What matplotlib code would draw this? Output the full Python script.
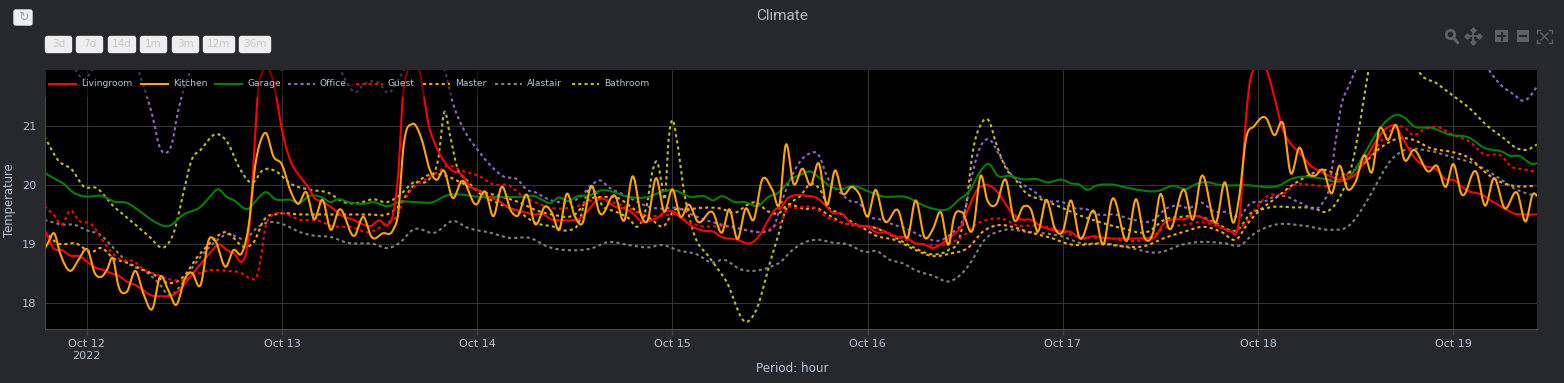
import numpy as np
import matplotlib
matplotlib.use('Agg')
import matplotlib.pyplot as plt
from matplotlib.patches import Circle, FancyBboxPatch, Rectangle

# hours counted from Oct 12 00:00
living_h = [-5.2, -4.1, -3, -2, -0.9, 0, 1, 2, 3, 4, 5, 6, 7, 8, 9.2, 10.2, 11.3, 12.3, 13.3, 14.3, 15.2, 16.2, 17.2, 18.2, 19.1, 19.7, 20.1, 20.6, 21, 21.5, 22.1, 22.7, 23.3, 24, 25, 26.2, 27.3, 28, 29, 30.3, 31.5, 32.8, 33.8, 34.8, 36, 37, 37.7, 38.3, 38.9, 39.5, 40.1, 40.8, 41.4, 42, 42.8, 43.8, 44.9, 46.1, 47.1, 48, 49.2, 50.4, 52, 53.6, 55.1, 56, 57.2, 58.4, 59.7, 60.7, 61.7, 62.7, 63.5, 64.3, 65.2, 66.2, 67.2, 68.2, 69.3, 70.1, 71.1, 72.1, 73.1, 74.4, 76, 77, 78, 79.7, 81.9, 82.8, 83.8, 84.8, 85.2, 86.2, 87.2, 88.4, 89.9, 90.7, 91.7, 93, 93.7, 95, 96, 97, 98.3, 99.5, 100.9, 101.7, 103, 104, 105, 106, 107.5, 108.5, 109.5, 110.5, 111.5, 112.5, 113.6, 114.8, 116.1, 117.3, 118.6, 119.8, 121, 122, 123.9, 125.1, 127.6, 130, 131.5, 132.3, 133.3, 134.9, 136.2, 137.8, 139.4, 140.7, 141.4, 141.8, 142.3, 142.9, 143.5, 144.2, 145, 145.9, 146.9, 148, 149.2, 150.4, 151.7, 152.9, 154.1, 155.3, 156.1, 157.4, 158.6, 159.8, 160.9, 161.9, 163.1, 164.3, 166, 167, 168, 169, 170, 171.3, 172.5, 174.2, 175.4, 176.6, 178.4]
living_t = [19.25, 18.93, 18.89, 18.8, 18.79, 18.7, 18.6, 18.56, 18.5, 18.45, 18.35, 18.3, 18.2, 18.12, 18.11, 18.11, 18.2, 18.37, 18.54, 18.71, 18.85, 18.99, 18.9, 18.82, 18.7, 18.93, 19.47, 20.6, 21.5, 21.9, 22.0, 21.88, 21.5, 20.94, 20.43, 20.15, 19.95, 19.78, 19.72, 19.6, 19.47, 19.41, 19.34, 19.3, 19.4, 19.32, 19.53, 20.2, 21.56, 21.96, 22.15, 22.0, 21.56, 21.05, 20.71, 20.43, 20.25, 20.18, 19.98, 19.92, 19.81, 19.75, 19.61, 19.55, 19.5, 19.51, 19.41, 19.4, 19.4, 19.44, 19.58, 19.74, 19.77, 19.69, 19.62, 19.6, 19.51, 19.38, 19.4, 19.44, 19.55, 19.55, 19.44, 19.3, 19.22, 19.21, 19.12, 19.08, 19.03, 19.16, 19.41, 19.6, 19.6, 19.78, 19.83, 19.82, 19.77, 19.67, 19.53, 19.5, 19.38, 19.31, 19.29, 19.2, 19.19, 19.12, 19.1, 19.02, 18.99, 18.93, 18.99, 19.1, 19.3, 19.64, 19.93, 20.0, 19.95, 19.78, 19.55, 19.42, 19.41, 19.3, 19.24, 19.21, 19.2, 19.1, 19.13, 19.1, 19.09, 19.1, 19.14, 19.33, 19.41, 19.42, 19.48, 19.4, 19.29, 19.21, 19.21, 19.53, 20.71, 21.67, 21.98, 22.1, 21.98, 21.56, 21.0, 20.71, 20.54, 20.34, 20.23, 20.15, 20.09, 20.12, 20.2, 20.49, 20.77, 20.97, 21.0, 20.77, 20.49, 20.34, 20.26, 20.1, 20.09, 19.98, 19.89, 19.85, 19.75, 19.61, 19.52, 19.5, 19.5]

kitchen_h = [-5.2, -4.7, -4, -3.3, -2, -1, 0.1, 1, 1.8, 2.5, 3.2, 3.9, 4.9, 6, 7, 8.1, 9, 10, 11, 12.1, 12.9, 14, 15, 15.8, 17.1, 18, 19.1, 19.9, 20.7, 21.5, 22, 22.95, 24, 25, 26, 27, 27.95, 29, 30, 31, 32.95, 34, 35, 36.4, 37.7, 38.3, 38.9, 40, 41.2, 42.1, 43, 43.9, 45, 46.1, 47.9, 49, 50, 51, 52.2, 53, 54.1, 55.1, 56.4, 57.2, 58.1, 59, 60, 60.9, 62.1, 63, 65, 66.1, 67.1, 68.2, 68.9, 70, 71, 72, 73, 74, 75.1, 77, 78.1, 79, 80, 81, 82, 83, 84.3, 85.2, 85.9, 86.9, 88, 89, 90, 91, 92, 92.9, 94.1, 95, 96, 97, 98, 99.8, 100.9, 101.9, 103, 104, 105, 106, 106.6, 107.6, 109, 109.9, 110.7, 111.8, 113, 114, 115.2, 116.1, 116.9, 118, 119, 120, 121, 122, 123.9, 125, 126, 128, 129, 130, 131.1, 132, 133, 135, 136, 137, 138.9, 139.9, 141, 141.7, 142.5, 143.5, 145, 146, 147.1, 148, 149.1, 150.2, 151, 152, 153.1, 154, 155, 156, 157.1, 158, 158.9, 160, 161, 162, 163.1, 165, 166, 167.1, 168, 169, 170.9, 171.9, 173, 174.3, 175.9, 176.9, 177.8, 178.4]
kitchen_t = [18.9, 19.03, 19.18, 18.85, 18.54, 18.73, 18.9, 18.5, 18.44, 18.56, 18.76, 18.28, 18.18, 18.54, 18.14, 17.9, 18.44, 18.22, 17.96, 18.42, 18.51, 18.3, 19.07, 19.05, 18.61, 18.89, 18.85, 19.3, 20.32, 20.8, 20.89, 20.49, 20.35, 19.92, 19.68, 19.88, 19.42, 19.75, 19.24, 19.58, 19.14, 19.46, 19.12, 19.18, 19.25, 19.53, 20.6, 21.04, 20.77, 20.29, 20.09, 20.25, 19.78, 20.07, 19.67, 19.89, 19.47, 19.97, 19.55, 19.48, 19.84, 19.34, 19.64, 19.53, 19.24, 19.85, 19.47, 19.34, 19.99, 19.54, 19.81, 19.4, 20.15, 19.47, 19.38, 20.12, 19.55, 19.93, 19.46, 19.67, 19.38, 19.53, 19.19, 19.59, 19.08, 19.6, 19.41, 20.08, 19.92, 19.7, 20.67, 20.02, 20.28, 20.0, 20.37, 19.66, 20.25, 19.86, 19.97, 19.84, 19.46, 19.92, 19.41, 19.56, 19.1, 19.74, 19.11, 19.24, 19.54, 18.99, 19.44, 19.54, 19.27, 20.16, 19.75, 19.67, 20.09, 19.41, 19.64, 19.58, 19.21, 19.75, 19.27, 19.21, 19.74, 19.12, 19.55, 18.99, 19.74, 19.08, 19.76, 19.12, 19.19, 19.85, 19.27, 19.91, 19.41, 20.14, 19.38, 20.05, 19.36, 19.81, 20.77, 21.0, 21.14, 20.85, 21.04, 20.21, 20.64, 20.2, 20.16, 20.26, 19.86, 20.33, 19.93, 20.06, 20.51, 20.22, 20.95, 20.77, 21.02, 20.43, 20.6, 20.23, 20.33, 19.97, 20.36, 19.85, 20.21, 19.65, 20.12, 19.61, 19.86, 19.38, 19.85, 19.81]

garage_h = [-5.2, -4.1, -2.9, -1.6, -0.4, 2, 3.3, 4.9, 6.6, 8.4, 10, 11.9, 14, 15.2, 16.1, 17.2, 18, 19.9, 20.9, 22, 23.2, 25, 26.2, 27.3, 29.1, 29.9, 30.9, 32.2, 34, 35.2, 37.1, 38.3, 40.5, 42.6, 44, 48.5, 53.3, 55.1, 56.1, 57, 58, 59.2, 60.3, 61.7, 63.3, 64.6, 66, 69.3, 70.7, 72.3, 74.2, 76, 77, 78, 79.7, 80.9, 82.6, 83.8, 84.8, 86.8, 87.8, 89, 90.1, 91.3, 92.7, 94.2, 95.8, 97.8, 100.9, 102.5, 104, 106, 107.3, 108.5, 109.7, 110.9, 112, 113.4, 115, 116.9, 118, 120, 121, 122, 123, 124.1, 126, 128.4, 131.7, 133.7, 135, 136.6, 137.8, 139, 142.5, 146.7, 148, 152, 154, 155.3, 156.9, 159, 160.2, 161.1, 162, 163.1, 165.2, 167.6, 169.9, 171.9, 174, 175, 176, 177.9, 178.4]
garage_t = [20.21, 20.12, 20.03, 19.87, 19.81, 19.81, 19.72, 19.7, 19.55, 19.37, 19.3, 19.5, 19.63, 19.81, 19.93, 19.8, 19.75, 19.6, 19.75, 19.88, 19.76, 19.75, 19.7, 19.81, 19.78, 19.71, 19.76, 19.71, 19.68, 19.71, 19.64, 19.71, 19.71, 19.71, 19.81, 19.8, 19.8, 19.81, 19.74, 19.69, 19.79, 19.73, 19.81, 19.82, 19.91, 19.89, 19.82, 19.81, 19.89, 19.91, 19.8, 19.81, 19.74, 19.81, 19.71, 19.71, 19.65, 19.8, 19.85, 20.12, 20.18, 20.23, 20.12, 19.99, 19.93, 19.99, 19.91, 19.81, 19.79, 19.68, 19.6, 19.6, 19.76, 19.89, 20.2, 20.36, 20.16, 20.16, 20.1, 20.1, 20.05, 20.09, 20.03, 20.01, 19.92, 19.99, 20.01, 19.94, 19.9, 19.99, 19.93, 20.03, 20.05, 20.01, 20.0, 20.0, 20.1, 20.11, 20.06, 20.15, 20.49, 20.97, 21.14, 21.2, 21.15, 21.01, 20.98, 20.86, 20.81, 20.63, 20.57, 20.5, 20.5, 20.36, 20.38]

office_h = [-5.2, -3, -1.3, -0.4, 0.6, 2, 5, 6.35, 7.4, 8.2, 8.8, 9.8, 10.5, 11.1, 11.9, 12.8, 15, 20, 23, 24.1, 25, 29, 31.2, 32, 33, 34, 35.9, 37.1, 38.3, 39.1, 40.5, 42, 43.5, 44, 44.9, 46.5, 47.9, 49.4, 51.2, 53, 54.1, 55.1, 56.4, 58, 59.4, 60.7, 61.9, 63.1, 64.3, 66, 67.6, 69.1, 70.7, 72.7, 74.2, 76, 78, 80, 81.8, 83.4, 84.6, 85.2, 86.2, 87.7, 88.9, 89.9, 91.1, 92.7, 94, 95, 96, 97.4, 99.1, 100.9, 102.8, 105.2, 106.4, 107.7, 108.9, 109.7, 110.9, 112.2, 113.4, 115, 116.5, 117.7, 120, 121.4, 122.9, 124.3, 126.4, 128.4, 131.1, 132.7, 134.3, 135.6, 136.8, 138.6, 140.3, 141.7, 143, 144.8, 145.9, 147.4, 149, 152, 152.7, 153.5, 154.3, 155.1, 156, 158, 162, 166, 170, 172.4, 173.9, 175.3, 176.8, 177.6, 178.4]
office_t = [22.6, 22.4, 21.95, 21.8, 21.95, 22.4, 22.5, 21.96, 21.51, 21.11, 20.72, 20.55, 20.72, 21.17, 21.62, 21.96, 22.5, 22.6, 22.2, 21.96, 22.2, 22.4, 21.96, 21.74, 21.58, 21.71, 21.74, 21.57, 21.79, 21.99, 22.4, 22.6, 22.1, 21.96, 21.45, 20.91, 20.63, 20.37, 20.15, 20.09, 19.92, 19.88, 19.78, 19.71, 19.71, 19.8, 19.98, 20.08, 19.95, 19.84, 19.72, 19.63, 19.6, 19.61, 19.51, 19.41, 19.33, 19.27, 19.21, 19.21, 19.33, 19.61, 20.0, 20.4, 20.54, 20.53, 20.12, 19.86, 19.72, 19.69, 19.48, 19.42, 19.33, 19.25, 19.12, 19.07, 19.19, 19.41, 20.2, 20.6, 20.78, 20.51, 20.23, 20.02, 19.89, 19.75, 19.71, 19.61, 19.59, 19.5, 19.5, 19.42, 19.4, 19.6, 19.65, 19.61, 19.71, 19.55, 19.54, 19.46, 19.68, 19.72, 19.8, 19.81, 19.71, 19.71, 19.92, 20.71, 21.39, 21.67, 21.96, 22.9, 23.3, 23.2, 22.6, 21.96, 21.7, 21.56, 21.44, 21.54, 21.7]

guest_h = [-5.2, -4.1, -3.1, -2, -1, 0.6, 2, 3.3, 4.5, 5.7, 7, 8.6, 10.7, 12.1, 13.5, 15, 17.2, 18.9, 20.1, 21, 21.5, 21.9, 22.7, 24, 26.2, 28.3, 30.3, 32.4, 34.8, 36.9, 38.1, 38.9, 40.1, 41.6, 43, 44.4, 46.2, 48.3, 50, 52, 53.3, 55.1, 57.2, 59.2, 61.3, 62.7, 64.6, 66.6, 68.2, 70.7, 72.3, 74.2, 75.6, 78, 79.7, 81.3, 83.4, 84.8, 85.5, 86, 87.2, 89.7, 90.9, 92.5, 94.6, 96.6, 99, 101.5, 104, 106, 108, 109.3, 110.5, 113, 114.2, 115.8, 117.7, 119.4, 121.4, 125.1, 130.9, 132.5, 135, 137, 139, 141.1, 142.3, 143.6, 145.1, 147.2, 148.4, 150.6, 152.9, 154.5, 156.2, 157.8, 159.4, 160.7, 161.9, 163.1, 164.3, 166, 168, 170, 171.7, 174, 175, 176.6, 178.4]
guest_t = [19.64, 19.5, 19.33, 19.57, 19.4, 19.33, 19.05, 18.82, 18.71, 18.71, 18.56, 18.48, 18.38, 18.39, 18.48, 18.55, 18.54, 18.51, 18.42, 18.48, 18.85, 19.24, 19.47, 19.52, 19.41, 19.4, 19.3, 19.29, 19.2, 19.36, 19.47, 19.7, 19.95, 20.09, 20.21, 20.33, 20.24, 20.15, 20.01, 19.99, 19.84, 19.71, 19.61, 19.61, 19.69, 19.78, 19.71, 19.61, 19.5, 19.48, 19.5, 19.36, 19.3, 19.3, 19.27, 19.23, 19.21, 19.33, 19.4, 19.58, 19.61, 19.6, 19.46, 19.38, 19.3, 19.29, 19.16, 19.03, 18.97, 19.01, 19.16, 19.33, 19.4, 19.41, 19.32, 19.31, 19.3, 19.23, 19.14, 19.1, 19.12, 19.27, 19.32, 19.37, 19.3, 19.21, 19.33, 19.58, 19.81, 19.86, 20.0, 20.0, 20.0, 20.15, 20.26, 20.49, 20.8, 20.97, 20.99, 20.85, 20.94, 20.99, 20.85, 20.74, 20.53, 20.49, 20.33, 20.27, 20.22]

master_h = [-5.2, -3.7, -1.2, 0.6, 1.8, 3.3, 4.7, 6.1, 8.2, 10.2, 11.9, 13.5, 15, 17, 19.5, 20.5, 21.7, 23.6, 26.2, 29, 32, 35, 36.9, 38.1, 40.1, 42.2, 44.3, 46.2, 48.3, 50.8, 53.3, 55.1, 57.2, 60, 61.7, 63.7, 65.3, 67.4, 69.4, 70.9, 72.3, 73.6, 75.2, 78, 79.7, 81.3, 82.1, 83.8, 85.2, 86.2, 87.2, 88, 89.9, 91.1, 92.9, 95, 97, 99.5, 101.5, 104.2, 106, 108.5, 110.1, 112.2, 113.8, 115.8, 116.9, 118.6, 120.6, 125.1, 127.2, 130, 132.5, 135, 137.4, 139.4, 141.5, 142.5, 143.9, 145.9, 148, 150, 152, 154.1, 156.6, 159, 161.5, 163.1, 165.2, 168, 170, 172.1, 174.2, 175.8, 178.4]
master_t = [19.22, 19.02, 19.0, 18.86, 18.93, 18.75, 18.69, 18.61, 18.48, 18.33, 18.44, 18.76, 18.99, 19.2, 18.95, 19.02, 19.39, 19.51, 19.5, 19.5, 19.5, 19.5, 19.5, 19.61, 19.98, 20.18, 20.15, 20.03, 19.9, 19.81, 19.7, 19.58, 19.5, 19.5, 19.75, 19.8, 19.78, 19.58, 19.42, 19.3, 19.58, 19.58, 19.61, 19.6, 19.53, 19.67, 19.71, 19.55, 19.53, 19.67, 19.64, 19.6, 19.6, 19.5, 19.36, 19.3, 19.14, 19.06, 18.92, 18.79, 18.83, 18.95, 19.2, 19.32, 19.29, 19.2, 19.16, 19.1, 19.0, 19.0, 18.96, 18.96, 19.1, 19.21, 19.29, 19.21, 19.09, 19.3, 19.53, 19.75, 19.98, 20.15, 20.26, 20.18, 20.32, 20.63, 20.8, 20.77, 20.63, 20.56, 20.46, 20.2, 20.03, 19.98, 19.99]

alastair_h = [-5.2, -3.1, -1.4, 0, 1.6, 3.3, 5.3, 7.4, 8.8, 10.2, 11.5, 13.1, 15.2, 17.2, 19.7, 20.9, 22.5, 24.2, 26.2, 27.9, 29.9, 32, 35.2, 37.1, 38.5, 40.1, 42.8, 45.1, 46.7, 49.6, 52, 54.5, 56.7, 59.6, 62, 64.1, 66.6, 69.1, 70.7, 72.7, 75.2, 76.8, 78.2, 80.5, 82.1, 84.6, 85.2, 86.4, 88, 90, 91.7, 93.3, 96, 97, 98.7, 100.3, 101.9, 104, 106, 107.7, 108.9, 110.1, 112.6, 115.8, 116.9, 119.8, 122.3, 125.1, 127.6, 132.1, 134.5, 136.6, 139.9, 141.9, 143.2, 145.9, 149.6, 152.9, 155.1, 157, 158.6, 160.2, 161.9, 164.8, 168, 170.5, 173.3, 175.4, 178.4]
alastair_t = [19.41, 19.33, 19.32, 19.23, 19.16, 18.93, 18.65, 18.51, 18.34, 18.12, 18.28, 18.62, 18.96, 19.16, 19.1, 19.27, 19.37, 19.33, 19.2, 19.14, 19.12, 19.02, 19.0, 18.93, 19.02, 19.24, 19.19, 19.39, 19.28, 19.19, 19.1, 19.1, 18.95, 18.89, 18.92, 19.03, 18.98, 18.94, 18.98, 18.89, 18.81, 18.68, 18.73, 18.56, 18.54, 18.64, 18.68, 18.85, 19.01, 19.07, 19.02, 19.0, 18.86, 18.88, 18.73, 18.67, 18.55, 18.46, 18.36, 18.51, 18.73, 19.02, 19.23, 19.2, 19.19, 19.13, 19.01, 19.01, 18.95, 18.86, 18.98, 19.03, 19.01, 18.98, 19.14, 19.32, 19.31, 19.24, 19.3, 19.64, 20.03, 20.4, 20.59, 20.59, 20.47, 20.37, 20.15, 19.95, 19.8]

bath_h = [-5.2, -3.5, -1.8, -0.4, 1.2, 3.3, 5.3, 7.4, 9.8, 10.7, 11.7, 12.9, 14, 16, 17.2, 18.9, 20.3, 21.7, 23.2, 25, 27.5, 29.7, 31.6, 33.6, 35.2, 36.9, 38.3, 40.1, 42.2, 43.2, 44, 44.6, 45.5, 46.7, 48.3, 50.4, 53.3, 55.1, 57.2, 59.2, 60.4, 61.7, 62.3, 63.3, 65, 66.6, 67.8, 68.9, 69.5, 70.1, 70.7, 71.1, 71.5, 72, 72.5, 73.4, 74.5, 76.6, 78.6, 81.1, 82.3, 84, 85.2, 85.8, 86.4, 87.7, 89, 90.3, 91.1, 92.5, 94.6, 97, 99, 101.5, 104.2, 106, 107.3, 108.1, 108.9, 110, 110.9, 111.8, 113, 114.2, 115.3, 117.7, 120, 121.8, 124.3, 127.2, 130.5, 132.5, 134.5, 137, 139, 141.5, 143.2, 144.3, 145.9, 148.3, 150.8, 152.5, 154.1, 155.7, 156.8, 157.6, 159, 161, 162.5, 163.7, 166, 168, 170, 172.1, 174.2, 175.8, 177, 178.4]
bath_t = [20.83, 20.42, 20.26, 19.98, 19.95, 19.64, 19.41, 19.16, 18.97, 19.19, 19.75, 20.43, 20.6, 20.87, 20.75, 20.26, 20.04, 20.26, 20.24, 20.03, 19.92, 19.87, 19.71, 19.7, 19.76, 19.71, 19.81, 20.04, 20.12, 20.43, 21.25, 20.89, 20.32, 20.09, 19.86, 19.7, 19.53, 19.36, 19.3, 19.23, 19.33, 19.92, 19.95, 19.67, 19.55, 19.44, 19.3, 19.69, 20.2, 20.4, 20.03, 19.78, 20.71, 21.11, 20.82, 19.92, 19.24, 18.76, 18.37, 17.67, 17.87, 18.68, 19.23, 19.53, 19.67, 19.81, 20.02, 19.89, 19.64, 19.53, 19.33, 19.27, 19.14, 18.95, 18.82, 18.9, 19.1, 19.64, 20.54, 21.05, 21.1, 20.71, 20.29, 20.09, 19.89, 19.74, 19.61, 19.5, 19.38, 19.27, 19.21, 19.41, 19.46, 19.46, 19.34, 19.24, 19.53, 19.58, 19.63, 19.62, 19.61, 19.55, 19.81, 20.43, 21.28, 21.96, 22.6, 22.8, 22.4, 21.96, 21.73, 21.52, 21.31, 21.02, 20.8, 20.63, 20.6, 20.7]

# dotted series first, solid ones stay on top
series = [
    ('Bathroom', bath_h, bath_t, '#bcbd22', True),
    ('Alastair', alastair_h, alastair_t, '#7f7f7f', True),
    ('Master', master_h, master_t, '#ffa500', True),
    ('Guest', guest_h, guest_t, '#ff0000', True),
    ('Office', office_h, office_t, '#9467bd', True),
    ('Garage', garage_h, garage_t, '#008000', False),
    ('Livingroom', living_h, living_t, '#ff0000', False),
    ('Kitchen', kitchen_h, kitchen_t, '#ffa500', False),
]

tick_hours = [0, 24, 48, 72, 96, 120, 144, 168]
tick_labels = ['Oct 12\n2022', 'Oct 13', 'Oct 14', 'Oct 15', 'Oct 16', 'Oct 17', 'Oct 18', 'Oct 19']
y_ticks = [18, 19, 20, 21]

legend_order = ['Livingroom', 'Kitchen', 'Garage', 'Office', 'Guest', 'Master', 'Alastair', 'Bathroom']
legend_x = [49, 141, 215, 288, 356, 423, 495, 572]
buttons = ['3d', '7d', '14d', '1m', '3m', '12m', '36m']
button_x = [45, 76, 108, 140, 172, 203, 239]
button_w = [27, 27, 28, 27, 27, 32, 32]

BG = '#26282c'
TXT = '#b4c4d6'
GRID = '#333333'
ICON = '#5f6165'
DOT = (0, (1.5, 1.5))


# plotly style spline through the readings
def smooth(h, v):
    h = np.array(h, dtype=float)
    v = np.array(v, dtype=float)
    m = np.gradient(v, h)
    xs, ys = [], []
    for i in range(len(h) - 1):
        d = h[i + 1] - h[i]
        s = np.linspace(0, 1, 12, endpoint=False)
        xs.append(h[i] + s * d)
        ys.append((2*s**3 - 3*s**2 + 1) * v[i] + (s**3 - 2*s**2 + s) * d * m[i]
                  + (-2*s**3 + 3*s**2) * v[i + 1] + (s**3 - s**2) * d * m[i + 1])
    return np.concatenate(xs), np.concatenate(ys)


fig = plt.figure(figsize=(15.64, 3.83), dpi=100, facecolor=BG)
ax = fig.add_axes([45 / 1564, 54 / 383, 1492 / 1564, 259 / 383], facecolor='black')

for name, h, t, color, dotted in series:
    x, y = smooth(h, t)
    ax.plot(x, y, color=color, lw=1.5, ls=DOT if dotted else '-', label=name)

ax.set_xlim(-5.13, 178.3)
ax.set_ylim(17.55, 21.96)
ax.set_xticks(tick_hours)
ax.set_xticklabels(tick_labels, fontsize=8, color=TXT, linespacing=1.25)
ax.set_yticks(y_ticks)
ax.set_yticklabels([str(v) for v in y_ticks], fontsize=8.2, color=TXT)
ax.tick_params(axis='x', length=4, width=1, color='#444444', pad=3)
ax.tick_params(axis='y', length=0, pad=6)
ax.grid(True, color=GRID, lw=0.8)
ax.set_axisbelow(True)
for side in ['top', 'right']:
    ax.spines[side].set_visible(False)
for side in ['left', 'bottom']:
    ax.spines[side].set_color('#4a4a4a')

# overlay in pixels for legend, buttons and toolbar
ui = fig.add_axes([0, 0, 1, 1])
ui.set_xlim(0, 1564)
ui.set_ylim(383, 0)
ui.axis('off')

ui.add_patch(Rectangle((45, 70), 607, 27, color='black', alpha=0.5, lw=0))
styles = {s[0]: s for s in series}
for name, lx in zip(legend_order, legend_x):
    c = styles[name][3]
    ui.plot([lx, lx + 27], [83.5, 83.5], color=c, lw=1.5, ls=DOT if styles[name][4] else '-')
    ui.text(lx + 32, 84, name, color=TXT, fontsize=6.6, va='center')

ui.text(782, 16, 'Climate', color='#b8bcc2', fontsize=11, family='Roboto', ha='center', va='center')
ui.text(10, 200, 'Temperature', color=TXT, fontsize=8.4, rotation=90, ha='center', va='center')
ui.text(792, 369, 'Period: hour', color=TXT, fontsize=8.6, ha='center', va='center')

ui.add_patch(FancyBboxPatch((14, 10), 18, 15, boxstyle='round,pad=0,rounding_size=2', fc='#eeeeee', ec='#eeeeee', lw=1))
ui.text(23, 17.5, '↻', color='#9aa6b2', fontsize=9, ha='center', va='center')
for label, bx, bw in zip(buttons, button_x, button_w):
    ui.add_patch(FancyBboxPatch((bx + 0.5, 36.5), bw - 1, 16, boxstyle='round,pad=0,rounding_size=2', fc='#eeeeee', ec='#eeeeee', lw=1))
    ui.text(bx + bw / 2, 44, label, color='#c9c9c9', fontsize=7.5, ha='center', va='center')

# toolbar icons
ui.add_patch(Circle((1450.5, 34.5), 4.2, fc='none', ec=ICON, lw=2))
ui.plot([1453.5, 1457.5], [38, 42.5], color=ICON, lw=2.2)
ui.plot([1467, 1478], [36, 36], color=ICON, lw=1.4)
ui.plot([1472.5, 1472.5], [30.5, 41.5], color=ICON, lw=1.4)
ui.plot([1466.5, 1478.5], [36, 36], ls='none', marker='D', ms=2.6, color=ICON)
ui.plot([1472.5, 1472.5], [30, 42], ls='none', marker='D', ms=2.6, color=ICON)
ui.add_patch(Rectangle((1495.3, 30), 12.5, 12.3, color=ICON, lw=0))
ui.plot([1498, 1505], [36, 36], color=BG, lw=1.5)
ui.plot([1501.5, 1501.5], [32.5, 39.5], color=BG, lw=1.5)
ui.add_patch(Rectangle((1516.7, 30), 12.3, 12.3, color=ICON, lw=0))
ui.plot([1519.5, 1526.2], [36, 36], color=BG, lw=1.5)
for cx, sx in [(1537, 1), (1551.5, -1)]:
    for cy, sy in [(29.5, 1), (42.5, -1)]:
        ui.plot([cx + 3 * sx, cx, cx], [cy, cy, cy + 3 * sy], color=ICON, lw=1)
ui.plot([1541, 1548], [33, 40], color=ICON, lw=1)
ui.plot([1541, 1548], [40, 33], color=ICON, lw=1)

fig.savefig('out.png', dpi=100, facecolor=BG)
